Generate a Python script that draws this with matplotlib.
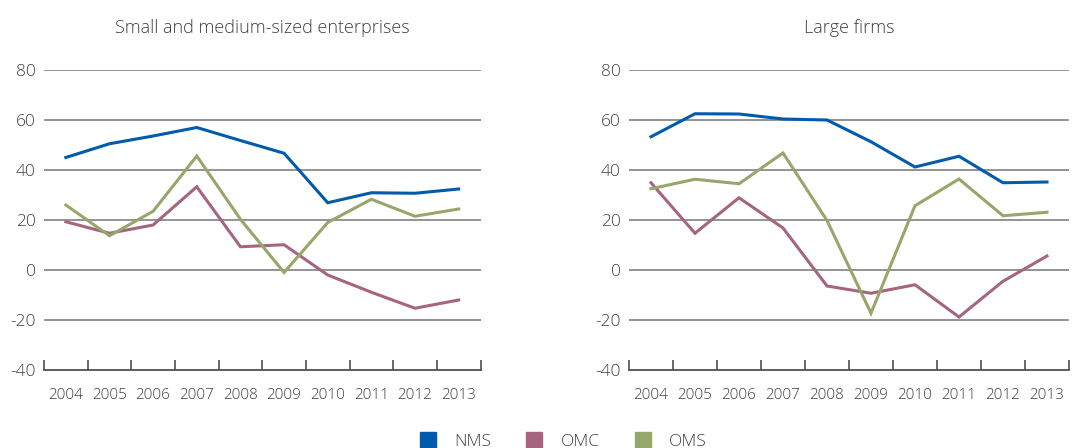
import matplotlib
matplotlib.use("Agg")
import matplotlib.pyplot as plt
from matplotlib.lines import Line2D
import numpy as np

years = ["2004", "2005", "2006", "2007", "2008", "2009", "2010", "2011", "2012", "2013"]

sme_nms = [45.0, 50.5, 53.6, 57.0, 51.8, 46.7, 26.9, 30.9, 30.7, 32.4]
sme_omc = [19.3, 14.7, 18.0, 33.3, 9.3, 10.1, -2.0, -8.9, -15.3, -12.0]
sme_oms = [26.0, 13.7, 23.5, 45.6, 20.3, -1.0, 19.0, 28.3, 21.5, 24.4]

large_nms = [53.3, 62.5, 62.4, 60.4, 60.0, 51.3, 41.2, 45.5, 34.9, 35.2]
large_omc = [34.9, 14.7, 28.9, 16.8, -6.4, -9.3, -5.9, -18.8, -4.5, 5.6]
large_oms = [32.5, 36.3, 34.5, 46.8, 19.8, -17.3, 25.7, 36.4, 21.7, 23.1]

series_names = ["NMS", "OMC", "OMS"]
colors = ["#005bac", "#a5657f", "#97a66a"]
titles = ["Small and medium-sized enterprises", "Large firms"]
yticks = [-40, -20, 0, 20, 40, 60, 80]

TEXT = "#404040"
GRID = "#8a8a8a"
FONT = ["Open Sans", "DejaVu Sans"]

W, H = 1075, 448
fig = plt.figure(figsize=(W / 100, H / 100), dpi=100)

panels = [
    (44, 480.5, [sme_nms, sme_omc, sme_oms], titles[0]),
    (629, 1069, [large_nms, large_omc, large_oms], titles[1]),
]
top_px, bot_px = 70, 370

for x0, x1, data, title in panels:
    ax = fig.add_axes([x0 / W, 1 - bot_px / H, (x1 - x0) / W, (bot_px - top_px) / H])
    x = np.arange(len(years))
    for vals, c in zip(data, colors):
        ax.plot(x, vals, color=c, lw=2.2, solid_joinstyle="miter", zorder=3)
    ax.set_xlim(-0.5, len(years) - 0.5)
    ax.set_ylim(-40, 80)
    for yv in yticks[1:]:
        ax.axhline(yv, color=GRID, lw=1.3, zorder=1)
    for s in ["top", "right", "left"]:
        ax.spines[s].set_visible(False)
    ax.spines["bottom"].set_color("#505050")
    ax.spines["bottom"].set_linewidth(1.3)
    ax.set_yticks(yticks)
    ax.set_yticklabels([str(v) for v in yticks], family=FONT, fontsize=12.5,
                       color=TEXT, fontweight="light")
    ax.tick_params(axis="y", length=0, pad=6)
    ax.set_xticks(x)
    ax.set_xticklabels(years, family=FONT, fontsize=11, color=TEXT,
                       fontweight="light")
    ax.set_xticks(np.arange(-0.5, len(years), 1.0), minor=True)
    ax.tick_params(axis="x", which="major", length=0, pad=13)
    ax.tick_params(axis="x", which="minor", direction="in", length=7,
                   width=1.2, color="#505050")
    ax.set_title(title, family=FONT, fontsize=13, color=TEXT,
                 fontweight="light", pad=27)
    ax.set_facecolor("none")

handles = [Line2D([], [], marker="s", linestyle="none", markersize=11.5,
                  markerfacecolor=c, markeredgecolor=c) for c in colors]
fig.legend(handles, series_names, loc="center", bbox_to_anchor=(563 / W, 1 - 442 / H),
           ncol=3, frameon=False, handlelength=1.0, handletextpad=1.0,
           columnspacing=2.0, prop={"family": FONT, "size": 12.5, "weight": "light"},
           labelcolor=TEXT)

fig.savefig("out.png", dpi=100)
